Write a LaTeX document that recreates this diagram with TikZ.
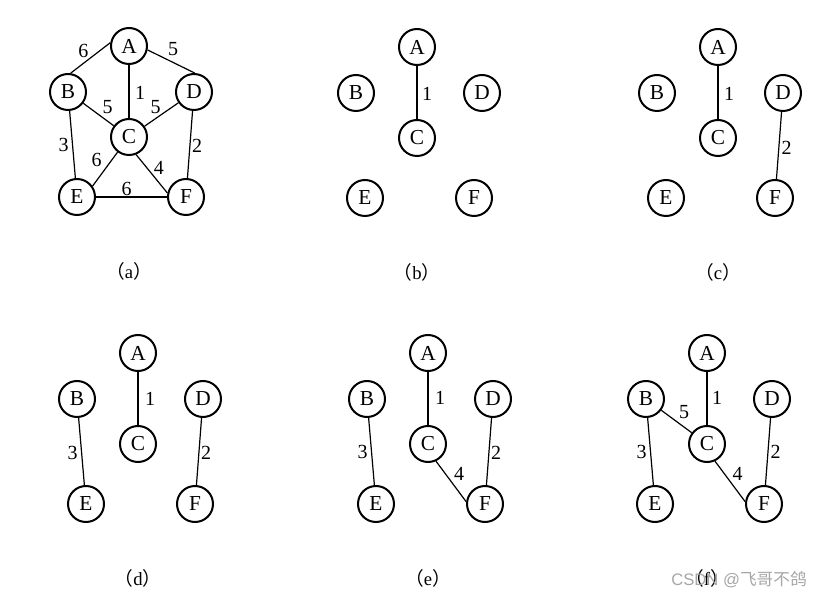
\documentclass[tikz,border=0pt]{standalone}
\usepackage{fontspec}
\setmainfont{Liberation Serif}
\newfontfamily\cjk{Noto Sans CJK SC}
\newfontfamily\marksans{Liberation Sans}
\tikzset{
  vtx/.style={draw, circle, line width=1.5pt, minimum size=27pt, inner sep=0pt, font=\fontsize{16}{16}\selectfont},
  edg/.style={line width=0.9pt},
  tree/.style={line width=2.2pt},
  wt/.style={font=\fontsize{15}{15}\selectfont, inner sep=0pt},
  panelcap/.style={font=\fontsize{14}{14}\selectfont}}

\begin{document}
\begin{tikzpicture}[x=0.75pt, y=-0.75pt]
  \useasboundingbox (0,0) rectangle (822,598);
  % the same six vertices in every panel
  \foreach \p/\x/\y in {a/129/46, b/417/47, c/718/47, d/138/353, e/428/353, f/707/353} {
    \begin{scope}[shift={(\x,\y)}]
      \node[vtx] (\p A) at (0,0) {A};
      \node[vtx] (\p B) at (-61,46) {B};
      \node[vtx] (\p D) at (65,46) {D};
      \node[vtx] (\p C) at (0,91) {C};
      \node[vtx] (\p E) at (-52,151) {E};
      \node[vtx] (\p F) at (57,151) {F};
      \node[panelcap] (\p cap) at (0,225) {{\cjk （}\p{\cjk ）}};
    \end{scope}
  }
  % (a) the whole graph
  \draw[edg] (aA.170) -- node[wt, shift={(-7,-7)}] {6} (aB.82);
  \draw[edg] (aA.-12) -- node[wt, shift={(2,-12)}] {5} (aD.88);
  \draw[tree] (aA) -- node[wt, shift={(11,1)}] {1} (aC);
  \draw[edg] (aB) -- node[wt, shift={(9,-7)}] {5} (aC);
  \draw[edg] (aC) -- node[wt, shift={(-6,-7)}] {5} (aD);
  \draw[edg] (aB) -- node[wt, shift={(-9,0)}] {3} (aE);
  \draw[edg] (aD) -- node[wt, shift={(7,1)}] {2} (aF);
  \draw[edg] (aC.233) -- node[wt, shift={(-8.5,-9)}] {6} (aE.35);
  \draw[edg] (aC.-68) -- node[wt, shift={(7,-6)}] {4} (aF.168);
  \draw[tree] (aE) -- node[wt, shift={(-5,-8)}] {6} (aF);
  % (b)
  \draw[tree] (bA) -- node[wt, shift={(10,1)}] {1} (bC);
  % (c)
  \draw[tree] (cA) -- node[wt, shift={(11,1)}] {1} (cC);
  \draw[edg] (cD) -- node[wt, shift={(7.5,2)}] {2} (cF);
  % (d)
  \draw[tree] (dA) -- node[wt, shift={(12,0)}] {1} (dC);
  \draw[edg] (dB) -- node[wt, shift={(-9,1.5)}] {3} (dE);
  \draw[edg] (dD) -- node[wt, shift={(7,1.5)}] {2} (dF);
  % (e)
  \draw[tree] (eA) -- node[wt, shift={(12,-1)}] {1} (eC);
  \draw[edg] (eB) -- node[wt, shift={(-9,0)}] {3} (eE);
  \draw[edg] (eD) -- node[wt, shift={(7,1.5)}] {2} (eF);
  \draw[edg] (eC.-65) -- node[wt, shift={(8,-7.5)}] {4} (eF.173);
  % (f)
  \draw[tree] (fA) -- node[wt, shift={(10,-1)}] {1} (fC);
  \draw[edg] (fB) -- node[wt, shift={(7.5,-9)}] {5} (fC);
  \draw[edg] (fB) -- node[wt, shift={(-9,0)}] {3} (fE);
  \draw[edg] (fD) -- node[wt, shift={(7.5,0.5)}] {2} (fF);
  \draw[edg] (fC.-65) -- node[wt, shift={(7.5,-7.5)}] {4} (fF.173);
  % watermark
  \node[text=gray!70, font=\marksans\fontsize{12.5}{12.5}\selectfont] (mark) at (739,580) {CSDN @{\cjk 飞哥不鸽}};
\end{tikzpicture}
\end{document}
